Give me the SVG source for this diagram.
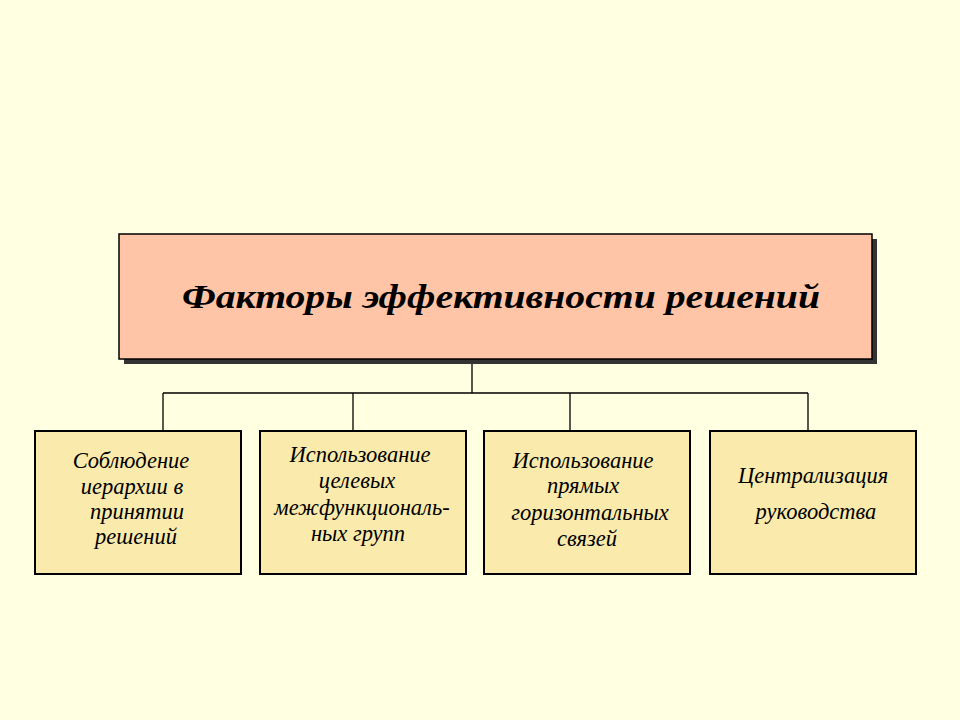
<svg xmlns="http://www.w3.org/2000/svg" width="960" height="720" viewBox="0 0 960 720">
<style>
.box{fill:#FAEBAC;stroke:#000;stroke-width:2}
.t{font-family:"Liberation Serif","DejaVu Serif",serif;font-style:italic;font-size:22.5px;fill:#000;text-anchor:middle}
.title{font-family:"Liberation Serif","DejaVu Serif",serif;font-style:italic;font-weight:bold;font-size:33px;fill:#000;text-anchor:middle}
.c{fill:none;stroke:#000;stroke-width:1.3}
</style>
<rect x="0" y="0" width="960" height="720" fill="#FFFFE1"/>
<g id="connectors">
<path class="c" d="M472 360V393M163 393H808M163 393V431M353 393V431M570 393V431M808 393V431"/>
</g>
<g id="title">
<rect x="124" y="239" width="753" height="125" fill="#333"/>
<rect x="119" y="234" width="753" height="125" fill="#FFC5A6" stroke="#000" stroke-width="1.5"/>
<text class="title" x="501" y="308" textLength="638" lengthAdjust="spacingAndGlyphs">Факторы эффективности решений</text>
</g>
<g id="n1">
<rect class="box" x="35" y="431" width="206" height="143"/>
<text class="t" x="131" y="468">Соблюдение</text>
<text class="t" x="132" y="494">иерархии в</text>
<text class="t" x="137" y="519">принятии</text>
<text class="t" x="136" y="544">решений</text>
</g>
<g id="n2">
<rect class="box" x="260" y="431" width="206" height="143"/>
<text class="t" x="360" y="462">Использование</text>
<text class="t" x="357" y="488">целевых</text>
<text class="t" x="362" y="515">межфункциональ-</text>
<text class="t" x="358" y="541">ных групп</text>
</g>
<g id="n3">
<rect class="box" x="484" y="431" width="206" height="143"/>
<text class="t" x="583" y="468">Использование</text>
<text class="t" x="583" y="493">прямых</text>
<text class="t" x="590" y="520">горизонтальных</text>
<text class="t" x="587" y="546">связей</text>
</g>
<g id="n4">
<rect class="box" x="710" y="431" width="206" height="143"/>
<text class="t" x="813" y="483">Централизация</text>
<text class="t" x="816" y="519">руководства</text>
</g>
</svg>
